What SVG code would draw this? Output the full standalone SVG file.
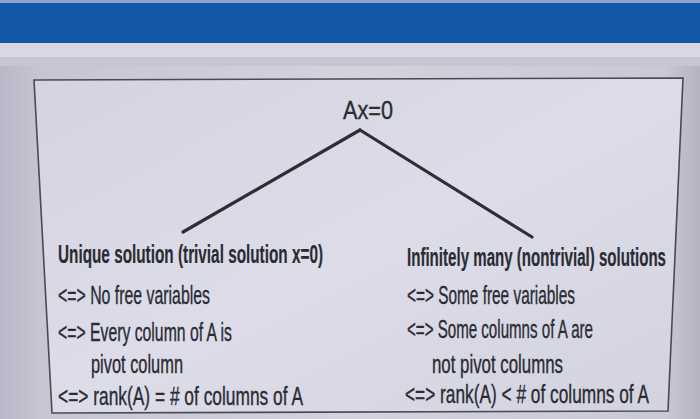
<svg xmlns="http://www.w3.org/2000/svg" width="700" height="419" viewBox="0 0 700 419">
<defs>
<linearGradient id="bg" x1="0" y1="0" x2="1" y2="0">
<stop offset="0" stop-color="#b9b8c8"/>
<stop offset="0.06" stop-color="#c6c5d3"/>
<stop offset="0.5" stop-color="#d3d3de"/>
<stop offset="0.95" stop-color="#c9c9d5"/>
<stop offset="1" stop-color="#b3b3c2"/>
</linearGradient>
<linearGradient id="panel" x1="0" y1="0" x2="1" y2="1">
<stop offset="0" stop-color="#d4d4e0"/>
<stop offset="0.5" stop-color="#dcdde8"/>
<stop offset="1" stop-color="#d2d3df"/>
</linearGradient>
</defs>
<style>
.t{font-family:"Liberation Sans","DejaVu Sans",sans-serif;fill:#2b2b33;font-size:25px;stroke:#2b2b33;stroke-width:0.35}
.b{font-weight:bold;stroke-width:0.2}
.c{stroke:#2e2e35;stroke-width:3.2;fill:none;stroke-linecap:round}
</style>
<rect x="0" y="0" width="700" height="419" fill="url(#bg)"/>
<rect x="0" y="0" width="700" height="3" fill="#8aa6cc"/>
<rect x="0" y="3" width="700" height="40" fill="#1457a6"/>
<rect x="0" y="43" width="700" height="14" fill="#d9d8e2"/>
<rect x="0" y="57" width="700" height="9" fill="#c5c6d2"/>
<polygon points="34,80 683,78 668,411 52,413" fill="url(#panel)" stroke="#4a4a55" stroke-width="1.6"/>
<g id="connectors">
<line class="c" x1="360" y1="130" x2="183" y2="232"/>
<line class="c" x1="360" y1="130" x2="532" y2="237"/>
</g>
<g id="root">
<text class="t" x="343" y="119" font-size="40" textLength="50" lengthAdjust="spacingAndGlyphs">Ax=0</text>
</g>
<g id="unique">
<text class="t b" x="58" y="263" textLength="265" lengthAdjust="spacingAndGlyphs">Unique solution (trivial solution x=0)</text>
<text class="t" x="58" y="304" textLength="152" lengthAdjust="spacingAndGlyphs">&lt;=&gt; No free variables</text>
<text class="t" x="58" y="341" textLength="174" lengthAdjust="spacingAndGlyphs">&lt;=&gt; Every column of A is</text>
<text class="t" x="91" y="373" textLength="92" lengthAdjust="spacingAndGlyphs">pivot column</text>
<text class="t" x="58" y="405" textLength="245" lengthAdjust="spacingAndGlyphs">&lt;=&gt; rank(A) = # of columns of A</text>
</g>
<g id="infinite">
<text class="t b" x="407" y="266" textLength="259" lengthAdjust="spacingAndGlyphs">Infinitely many (nontrivial) solutions</text>
<text class="t" x="407" y="304" textLength="168" lengthAdjust="spacingAndGlyphs">&lt;=&gt; Some free variables</text>
<text class="t" x="407" y="338" textLength="186" lengthAdjust="spacingAndGlyphs">&lt;=&gt; Some columns of A are</text>
<text class="t" x="432" y="373" textLength="131" lengthAdjust="spacingAndGlyphs">not pivot columns</text>
<text class="t" x="405" y="403" textLength="244" lengthAdjust="spacingAndGlyphs">&lt;=&gt; rank(A) &lt;  # of columns of A</text>
</g>
</svg>
